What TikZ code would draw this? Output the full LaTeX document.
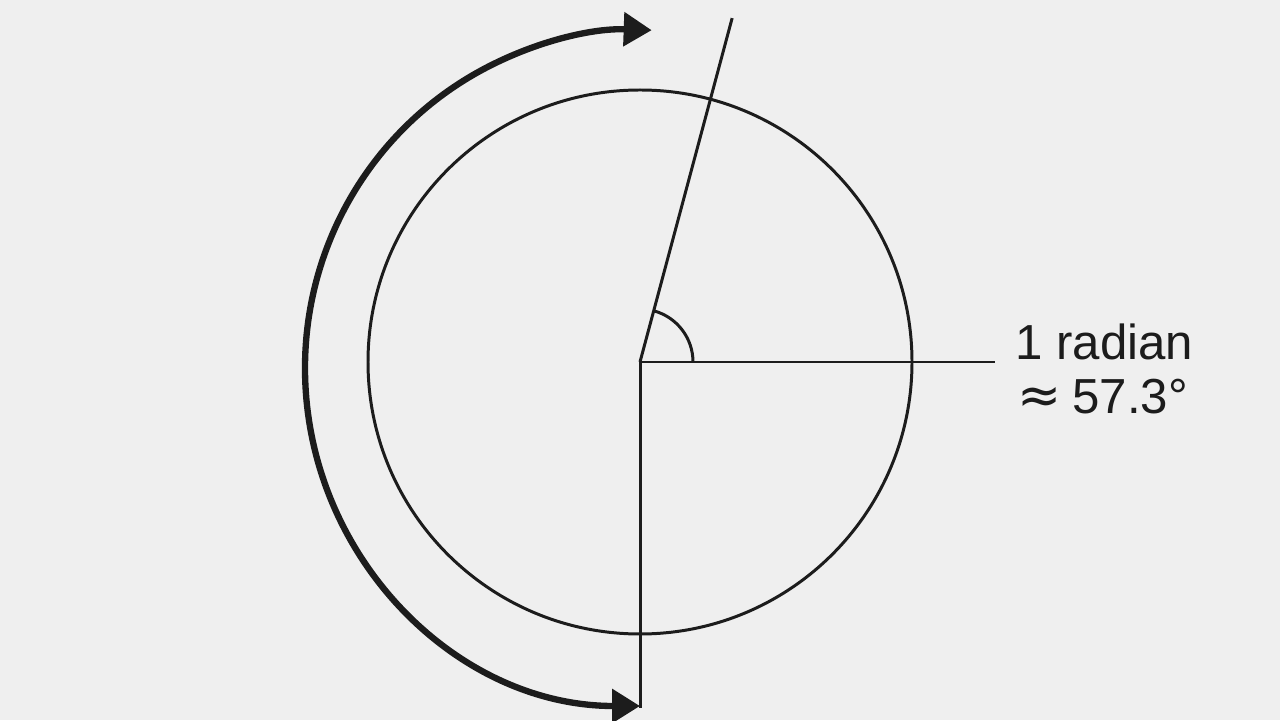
\documentclass[tikz,border=0pt]{standalone}
\usepackage{fontspec}
\setmainfont{Liberation Sans}
\newfontfamily\symfont{DejaVu Sans}
\usetikzlibrary{arrows.meta,calc,positioning}
\definecolor{paper}{HTML}{EFEFEF}
\definecolor{ink}{HTML}{1C1C1C}
\tikzset{
  thin line/.style={draw=ink,line width=1.7pt},
  turn arrow/.style={draw=ink,line width=3.6pt,
    {Triangle[length=0.56cm,width=0.66cm]}-{Triangle[length=0.56cm,width=0.66cm]}},
  label text/.style={text=ink,inner sep=0pt,anchor=base west,font=\fontsize{28}{30}\selectfont}
}
\begin{document}
\begin{tikzpicture}
\fill[paper] (0,0) rectangle (25.6,14.4);
\useasboundingbox (0,0) rectangle (25.6,14.4);
\coordinate (O) at (12.8,7.16);
\coordinate (R) at (19.9,7.16);
\coordinate (S) at ($(O)+(75:7.12)$);
\coordinate (V) at (12.8,0.24);
\coordinate (M) at (12.8,7.04);
% circle and radii
\draw[thin line] (O) circle (5.44);
\path[thin line]
(O) edge (R)
(O) edge (S)
(O) edge (V);
\draw[thin line] ($(O)+(75:1.06)$) arc (75:0:1.06);
% the turn
\draw[turn arrow] ($(M)+(270:6.7 and 6.76)$) arc[start angle=270,end angle=88,x radius=6.7,y radius=6.76];
\node[label text] (rad) at (20.3,7.2) {1 radian};
\node[label text] (deg) at ($(rad.base west)+(0.04,-1.08)$) {{\symfont\fontsize{30}{30}\selectfont ≈}\hspace{0.22em}57.3°};
\end{tikzpicture}
\end{document}
